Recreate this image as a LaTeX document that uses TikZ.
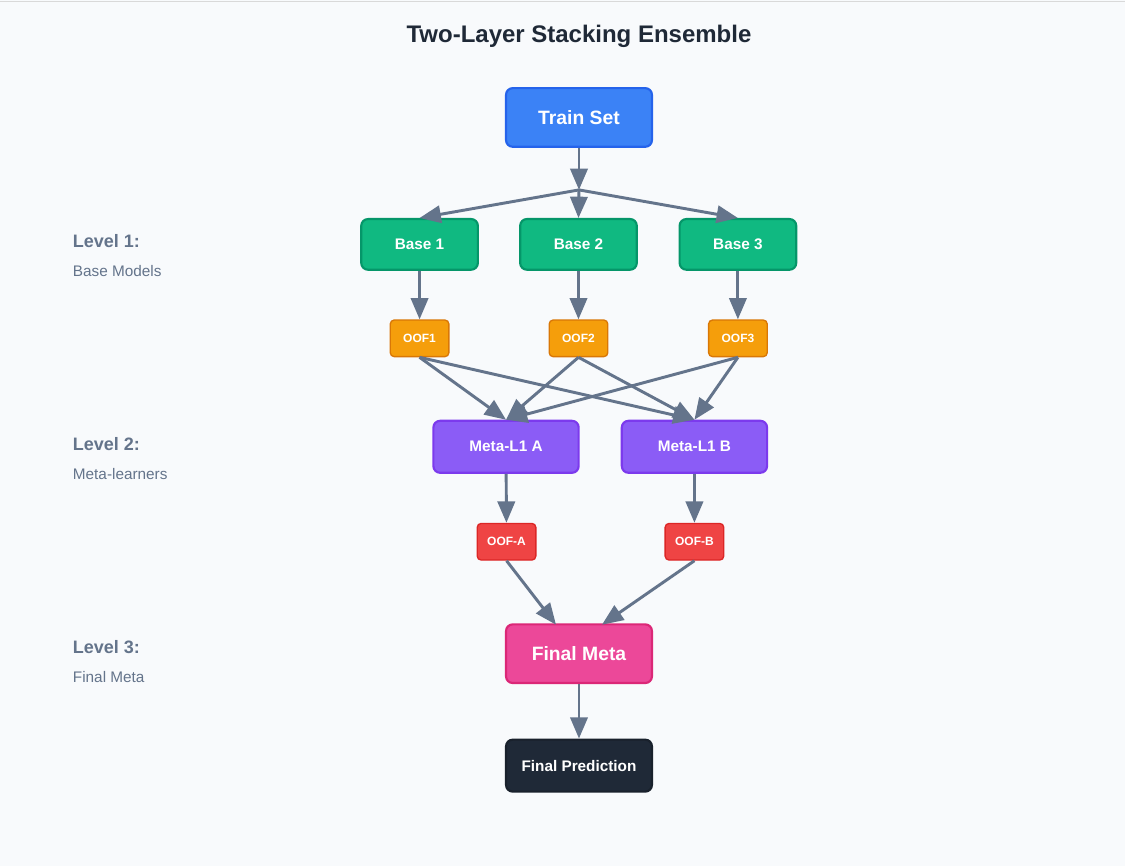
\documentclass[tikz,border=0pt]{standalone}
\usepackage{fontspec}
\setmainfont{Liberation Sans}
\usetikzlibrary{arrows.meta}
\definecolor{bg}{HTML}{F8FAFC}
\definecolor{edge}{HTML}{64748B}
\definecolor{ink}{HTML}{1F2937}
\begin{document}
\begin{tikzpicture}[x=0.75pt,y=-0.75pt,
 box/.style={draw,rounded corners=5pt,line width=1.6pt,text=white,font=\bfseries,inner sep=0pt},
 big/.style={box,minimum width=109.5pt,minimum height=44pt,font=\bfseries\fontsize{14.5}{16}\selectfont},
 base/.style={box,minimum width=87.5pt,minimum height=38pt,font=\bfseries\fontsize{11.5}{13}\selectfont,fill=green!0!white,fill={rgb,255:red,16;green,185;blue,129},draw={rgb,255:red,5;green,150;blue,105}},
 meta/.style={box,minimum width=109pt,minimum height=39pt,font=\bfseries\fontsize{11.5}{13}\selectfont,fill={rgb,255:red,139;green,92;blue,246},draw={rgb,255:red,124;green,58;blue,237}},
 oof/.style={box,rounded corners=3pt,line width=1pt,minimum width=44pt,minimum height=27.5pt,font=\bfseries\fontsize{9}{10}\selectfont},
 arr/.style={draw=edge,line width=2.2pt,-{Triangle[length=16pt,width=13pt]}},
 lvl/.style={anchor=west,text=edge,font=\bfseries\fontsize{13.5}{15}\selectfont},
 sub/.style={anchor=west,text=edge,font=\fontsize{11.5}{13}\selectfont}]
\fill[bg] (0,0) rectangle (1125,866);
\draw[gray!30] (0,1) -- (1125,1);
\node[text=ink,font=\bfseries\fontsize{18}{20}\selectfont] (title) at (579,36) {Two-Layer Stacking Ensemble};
\node[big,fill={rgb,255:red,59;green,130;blue,246},draw={rgb,255:red,37;green,99;blue,235}] (train) at (579,117.5) {Train Set};
\coordinate (split) at (579,190);
\node[base] (b1) at (419.5,244.5) {Base 1};
\node[base] (b2) at (578.5,244.5) {Base 2};
\node[base] (b3) at (738,244.5) {Base 3};
\foreach \i/\x in {1/419.5,2/578.5,3/738}
 \node[oof,fill={rgb,255:red,245;green,158;blue,11},draw={rgb,255:red,217;green,119;blue,6}] (o\i) at (\x,338.5) {OOF\i};
\node[meta] (ma) at (506,447) {Meta-L1 A};
\node[meta] (mb) at (694.5,447) {Meta-L1 B};
\node[oof,fill={rgb,255:red,239;green,68;blue,68},draw={rgb,255:red,220;green,38;blue,38}] (oa) at (506.5,542) {OOF-A};
\node[oof,fill={rgb,255:red,239;green,68;blue,68},draw={rgb,255:red,220;green,38;blue,38}] (ob) at (694.5,542) {OOF-B};
\node[big,fill={rgb,255:red,236;green,72;blue,153},draw={rgb,255:red,219;green,39;blue,119}] (fm) at (579,654) {Final Meta};
\node[big,minimum height=39pt,fill=ink,draw=ink!80!black,font=\bfseries\fontsize{11.5}{13}\selectfont] (fp) at (579,766) {Final Prediction};
\draw[arr] (train) -- (split);
\draw[arr] (split) -- (b1.north);
\draw[arr] (split) -- (b2.north);
\draw[arr] (split) -- (b3.north);
\foreach \i in {1,2,3}{
 \draw[arr] (b\i) -- (o\i);
 \draw[arr] (o\i.south) -- (ma.north);
 \draw[arr] (o\i.south) -- (mb.north);}
\draw[arr] (ma) -- (oa);
\draw[arr] (mb) -- (ob);
\draw[arr] (oa.south) -- (556,625);
\draw[arr] (ob.south) -- (602,625);
\draw[arr] (fm) -- (fp);
\node[lvl] (l1) at (68,241) {Level 1:};
\node[sub] (s1) at (68,271) {Base Models};
\node[lvl] (l2) at (68,444) {Level 2:};
\node[sub] (s2) at (68,474) {Meta-learners};
\node[lvl] (l3) at (68,647) {Level 3:};
\node[sub] (s3) at (68,677) {Final Meta};
\end{tikzpicture}
\end{document}
